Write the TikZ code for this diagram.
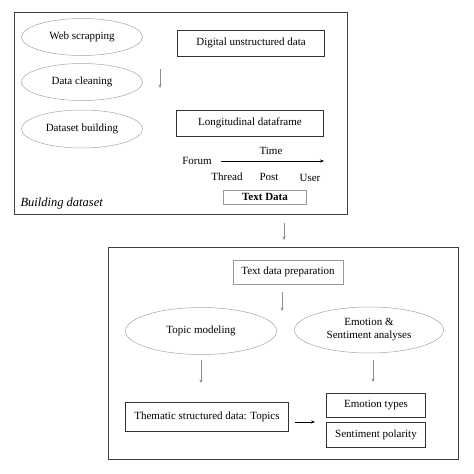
\documentclass[tikz,border=0pt]{standalone}
\usepackage{fontspec}
\setmainfont{Liberation Serif}
\usetikzlibrary{positioning, shapes.geometric, arrows.meta}

\begin{document}
\begin{tikzpicture}[x=1pt, y=-1pt, font=\fontsize{11}{13}\selectfont,
  frame/.style={draw=black!75, line width=0.9pt},
  oval/.style={ellipse, draw=black!35, line width=0.5pt, inner sep=0pt},
  databox/.style={draw=black!80, line width=0.8pt, inner sep=0pt},
  lightbox/.style={draw=black!40, line width=0.6pt, inner sep=0pt},
  flow/.style={-{Stealth[length=3.5pt,width=3pt]}, draw=black!45, fill=black!45, line width=0.5pt},
  timeline/.style={-{Stealth[length=4pt,width=3pt]}, black, line width=0.5pt}]

\useasboundingbox (0,0) rectangle (474,474);

% Building dataset
\draw[frame] (14,12) rectangle (347,214);
\node[anchor=west, font=\fontsize{12.5}{14}\selectfont\itshape] (bd) at (17,203) {Building dataset};

\node[oval, minimum width=121pt, minimum height=37pt] (web) at (82,37) {Web scrapping};
\node[oval, minimum width=121pt, minimum height=37pt] (clean) at (82,82) {Data cleaning};
\node[oval, minimum width=121pt, minimum height=38pt] (build) at (82,129) {Dataset building};

\node[databox, minimum width=147pt, minimum height=26pt] (digital) at (251,43) {Digital unstructured data};
\node[databox, minimum width=147pt, minimum height=26pt] (longi) at (250,123) {Longitudinal dataframe};

\coordinate (a1) at (160,69);
\coordinate (a2) at (160,88);
\draw[flow] (a1) -- (a2);

\node (forum) at (197,161) {Forum};
\node (time) at (271,151) {Time};
\coordinate (t0) at (221,161);
\coordinate (t1) at (324,161);
\draw[timeline] (t0) -- (t1);
\node (thread) at (227,177) {Thread};
\node (post) at (269,177) {Post};
\node (user) at (310,178) {User};
\node[lightbox, minimum width=83pt, minimum height=14pt, font=\fontsize{11}{13}\selectfont\bfseries] (textdata) at (265,197) {Text Data};

\coordinate (b1) at (284,223);
\coordinate (b2) at (284,240);
\draw[flow] (b1) -- (b2);

% Analyses
\draw[frame] (108,247) rectangle (458,459);

\node[lightbox, minimum width=110pt, minimum height=24pt] (prep) at (288,272) {Text data preparation};
\coordinate (c1) at (282,292);
\coordinate (c2) at (282,311);
\draw[flow] (c1) -- (c2);

\node[oval, minimum width=151pt, minimum height=47pt] (topic) at (201,331) {Topic modeling};
\node[oval, minimum width=149pt, minimum height=46pt, align=center] (emo) at (369,330) {Emotion \&\\Sentiment analyses};

\coordinate (d1) at (201,360);
\coordinate (d2) at (201,383);
\draw[flow] (d1) -- (d2);
\coordinate (e1) at (373,360);
\coordinate (e2) at (373,382);
\draw[flow] (e1) -- (e2);

\node[databox, minimum width=163pt, minimum height=29pt] (thematic) at (207,417) {Thematic structured data: Topics};
\node[databox, minimum width=99pt, minimum height=24pt] (etypes) at (376,405) {Emotion types};
\node[databox, minimum width=99pt, minimum height=25pt] (polar) at (376,435) {Sentiment polarity};

\coordinate (f1) at (295,422);
\coordinate (f2) at (315,422);
\draw[timeline] (f1) -- (f2);

\end{tikzpicture}
\end{document}
